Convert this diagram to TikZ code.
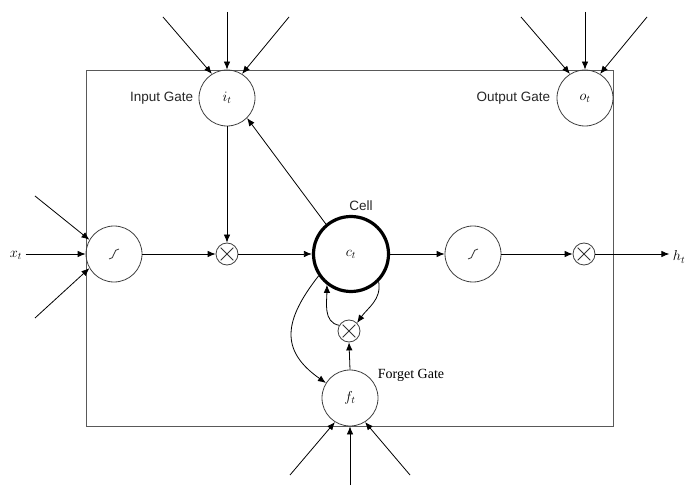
\documentclass[tikz,border=0pt]{standalone}
\usepackage{fontspec}
\setmainfont{Liberation Serif}
\setsansfont{Liberation Sans}
\usetikzlibrary{arrows.meta,positioning}

\begin{document}
\begin{tikzpicture}[x=1pt, y=-1pt, font=\fontsize{14}{16}\selectfont]
        % Define styles
        \tikzstyle{gate} = [circle, draw=black!75, line width=0.8pt, minimum size=56pt, inner sep=0pt]
        \tikzstyle{cell} = [circle, draw=black, line width=3.2pt, minimum size=75pt, inner sep=0pt]
        \tikzstyle{mult} = [circle, draw=black!75, line width=0.8pt, minimum size=22pt, inner sep=0pt]
        \tikzstyle{line} = [draw, line width=0.8pt, -{Latex[length=8pt,width=6.5pt]}]
        \tikzstyle{glyph} = [draw=black!80, line width=0.8pt]
        \tikzstyle{tag} = [font=\sffamily\fontsize{13.5}{16}\selectfont, text=black!85]

        \useasboundingbox (0,0) rectangle (696,494);

        % Frame
        \draw [black!65, line width=0.8pt] (86,70) rectangle (613,426);

        % Nodes
        \node [gate] (Input_Gate) at (227,98) {$i_t$};
        \node [gate] (Output_Gate) at (585,98) {$o_t$};
        \node [gate] (Forget_Gate) at (350,398) {$f_t$};
        \node [gate] (Sig_In) at (114,254) {};
        \node [cell] (Cell) at (351,254) {$c_t$};
        \node [gate] (Sig_Out) at (473,254) {};
        \node [mult] (Mul_In) at (227,254) {};
        \node [mult] (Mul_Out) at (584,254) {};
        \node [mult] (Mul_Forget) at (349,331) {};
        \node (x_t) at (16,255) {$x_t$};
        \node (h_t) at (679,257) {$h_t$};

        % Labels
        \node [tag, left=2pt of Input_Gate] (Input_Label) {Input Gate};
        \node [tag, left=3pt of Output_Gate] (Output_Label) {Output Gate};
        \node [tag] (Cell_Label) at (361,206) {Cell};
        \node (Forget_Label) at (411,375) {Forget Gate};

        % Symbols
        \foreach \s in {Sig_In, Sig_Out}
            \draw [glyph] ([shift={(-5,5)}]\s.center) .. controls ([shift={(1,6)}]\s.center) and ([shift={(-1,-6)}]\s.center) .. ([shift={(5,-5)}]\s.center);
        \foreach \m in {Mul_In, Mul_Out, Mul_Forget} {
            \draw [glyph, shorten <=2.5pt, shorten >=2.5pt] (\m.north west) -- (\m.south east);
            \draw [glyph, shorten <=2.5pt, shorten >=2.5pt] (\m.north east) -- (\m.south west);
        }

        % Inputs
        \foreach \g in {Input_Gate, Output_Gate} {
            \path [line] ([shift={(-64,-81)}]\g.center) -- (\g.122);
            \path [line] ([shift={(0,-86)}]\g.center) -- (\g.north);
            \path [line] ([shift={(62,-81)}]\g.center) -- (\g.58);
        }
        \path [line] ([shift={(-60,77)}]Forget_Gate.center) -- (Forget_Gate.238);
        \path [line] ([shift={(0,87)}]Forget_Gate.center) -- (Forget_Gate.south);
        \path [line] ([shift={(60,77)}]Forget_Gate.center) -- (Forget_Gate.302);
        \path [line] ([shift={(-79,-58)}]Sig_In.center) -- (Sig_In.150);
        \path [line] (x_t.east |- Sig_In) -- (Sig_In.west);
        \path [line] ([shift={(-79,64)}]Sig_In.center) -- (Sig_In.210);

        % Arrows
        \path [line] (Sig_In.east) -- (Mul_In.west);
        \path [line] (Input_Gate.south) -- (Mul_In.north);
        \path [line] (Mul_In.east) -- (Cell.west);
        \path [line] (Cell.130) -- (Input_Gate.-45);
        \path [line] (Cell.east) -- (Sig_Out.west);
        \path [line] (Sig_Out.east) -- (Mul_Out.west);
        \path [line] (Mul_Out.east) -- (Mul_Out.east -| h_t.west);
        \path [line] (Cell.-45) to [out=-80, in=55] (Mul_Forget.45);
        \path [line] (Mul_Forget.150) to [out=170, in=-90] (Cell.232);
        \path [line] (Cell.214) to [out=232, in=145, looseness=1.35] (Forget_Gate.148);
        \path [line] (Forget_Gate.north) -- (Mul_Forget.south);
    \end{tikzpicture}
\end{document}
